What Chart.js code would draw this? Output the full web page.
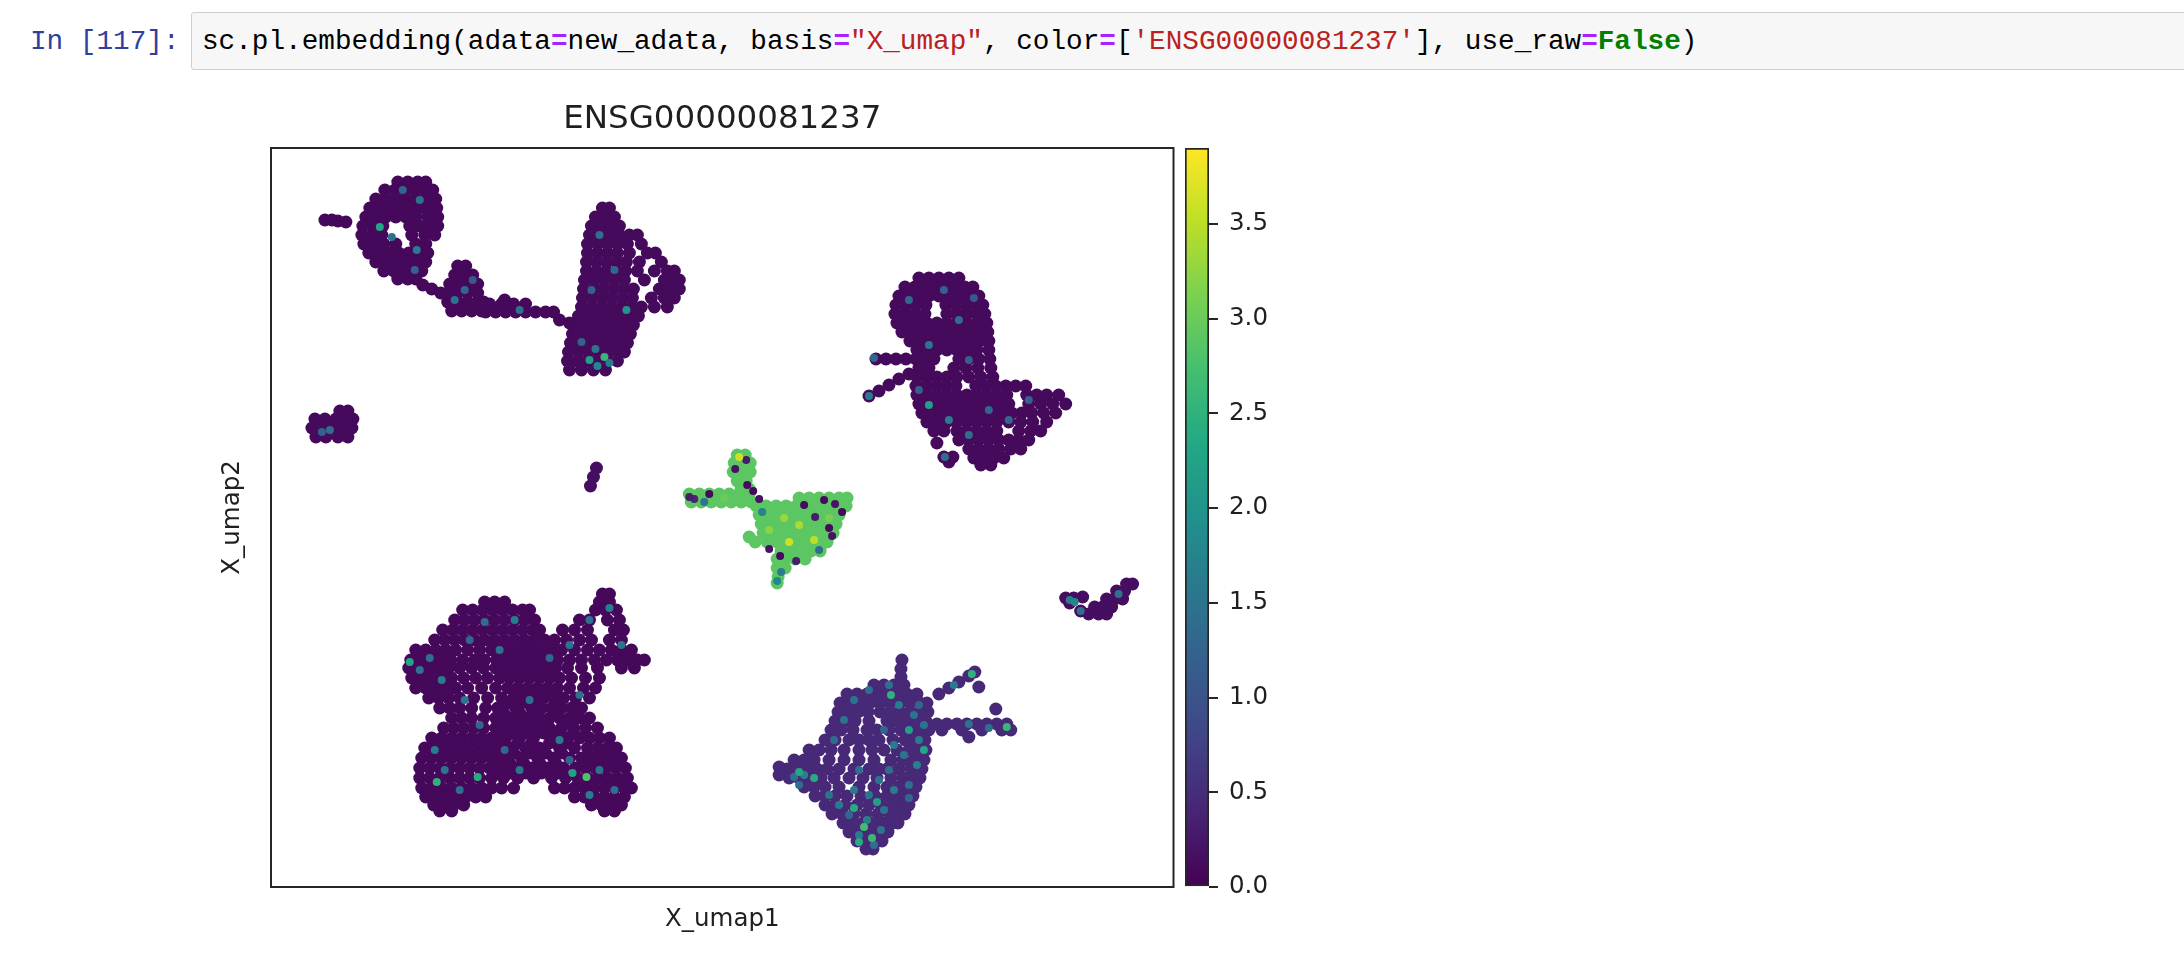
<!DOCTYPE html>
<html>
<head>
<meta charset="utf-8">
<script src="https://cdn.jsdelivr.net/npm/chart.js@4.4.1/dist/chart.umd.min.js"></script>
<style>
  html, body { margin: 0; padding: 0; background: #fff; width: 2184px; height: 968px; overflow: hidden; }
  .mono { position: absolute; top: 12px; line-height: 59px; font-family: "Liberation Mono", monospace; font-size: 27.7px; white-space: pre; }
  .prompt { left: 30px; color: #303F9F; }
  .cell { position: absolute; left: 191px; top: 12px; width: 2100px; height: 56px; background: #f7f7f7; border: 1.5px solid #cfcfcf; border-radius: 3px; }
  .code { left: 202px; color: #000; }
  .op { color: #AA22FF; font-weight: bold; }
  .str { color: #BA2121; }
  .kw { color: #008000; font-weight: bold; }
  #plotWrap { position: absolute; left: 210px; top: 90px; }
  #cbarWrap { position: absolute; left: 1175px; top: 138px; }
</style>
</head>
<body>
<div class="mono prompt">In [117]:</div>
<div class="cell"></div>
<div class="mono code">sc.pl.embedding(adata<span class="op">=</span>new_adata, basis<span class="op">=</span><span class="str">"X_umap"</span>, color<span class="op">=</span>[<span class="str">'ENSG00000081237'</span>], use_raw<span class="op">=</span><span class="kw">False</span>)</div>
<div id="plotWrap"><canvas id="umap" width="970" height="860"></canvas></div>
<div id="cbarWrap"><canvas id="cbar" width="110" height="774"></canvas></div>
<script>
// embedding; each row is [X_umap2, X_umap1, X_umap1, ...]
const cellsHook = [
  [708,128,138,148,156],[700,115,125,135,145,155,163],[691,106,116,126,136,146,156,166],
  [682,100,110,120,130,140,150,160,167],[673,96,106,116,126,136,146,158,168],
  [664,93,103,113,140,150,160,168],[655,92,102,112,142,155,165],[646,94,104,114,126,146,156],
  [637,99,109,119,129,139,149,158],[628,106,116,126,136,146,156],[619,114,124,134,144,152],
  [611,128,138,146],[605,153],[601,162],[597,171],[593,178],
  [624,188,196],[615,185,194,203],[606,180,190,200,208],[597,178,188,198,208],
  [588,178,188,198,208,214],[579,182,192,202,212],
  [586,220,232,244,256],[578,216,226,236,246,256,266,276,284],[570,290],[567,300],[590,235],
  [670,55,62],[669,68],[668,76]
];
const cellsRibbon = [
  [682,333,340],[673,326,336,345],[664,322,332,342,350],[655,320,330,340,350,360,368],
  [646,318,328,338,348,358,372],[637,318,328,338,348,360,378,386],[628,317,327,337,347,357,370,392],
  [619,317,327,337,347,356,368,385,398,405],[610,315,325,335,345,355,375,395,405,410],
  [601,314,324,334,344,354,364,390,400,410],[592,313,323,333,343,353,363,382,395,405],
  [583,312,322,332,342,352,362,372,385,398],[574,309,319,329,339,349,359,369],
  [565,306,316,326,336,346,356,364],[556,303,313,323,333,343,353,361],
  [547,301,311,321,331,341,351,358],[538,299,309,319,329,339,349,355],
  [529,298,308,318,328,338,348],[520,300,312,324,336]
];
const cellsFan = [
  [612,650,660,670,680,690],[603,636,646,656,666,676,686,696,704],
  [594,630,640,650,660,670,680,690,700,710],[585,627,637,647,657,677,687,697,707,714],
  [576,626,636,646,656,678,688,698,708,716],[567,628,638,648,658,668,678,688,698,708,718],
  [558,633,643,653,663,673,683,693,703,713,719],[549,641,651,661,671,681,691,701,711,720],
  [540,648,658,668,678,688,698,708,720],[531,607,617,627,637,647,655,665,690,700,710,721],
  [522,650,660,685,697,709,722],[513,648,658,668,678,688,700,712,724],
  [504,647,657,667,677,687,707,717,727,737,747,757],
  [495,648,658,668,678,688,698,708,718,728,738,758,768,778,790],
  [486,650,660,670,680,690,700,710,720,730,740,760,772,784,797],
  [477,653,663,673,683,693,703,713,723,733,743,753,763,775,787],
  [468,658,668,678,688,698,708,718,728,740,752,764,778],
  [459,665,675,688,698,708,718,728,750,762,772],[450,690,700,710,720,730,740,750,760],
  [441,700,710,720,730,742,752],[432,705,715,725,735],[425,712,722],
  [494,600],[499,610],[505,620],[511,630],[516,640],[433,675,684],[428,680],[447,668]
];
const cellsCenter = [
  [435,468,476],[427,465,474,481],[418,464,473,481],[409,468,477],[401,472,480],
  [396,420,430,440,450,460,470,480],[388,422,432,442,452,462,472,482],
  [392,530,540,550,560,570,578],[384,487,497,507,517,527,537,547,557,567,577],
  [375,490,500,510,520,530,540,550,560,570],[366,492,502,512,522,532,542,552,562,567],
  [357,494,504,514,524,534,544,554,564],[348,498,508,518,528,538,548,558],
  [339,512,522,532,542,551],[331,508,516,526,536],[322,508,516],[313,509],[307,508],
  [353,480],[348,486]
];
const cellsIsletL = [[479,70,78],[471,45,55,66,75,83],[462,42,52,62,72,82],[453,46,56,68,78]];
const cellsIsletM = [[422,327],[413,324],[404,321]];
const cellsRight = [
  [306,858,864],[299,848,856],[291,838,846,854],[283,826,834,843],[276,820,830,838],
  [292,797,805],[287,801],[293,814],[279,812]
];
const cellsCross = [
  [296,333,340],[288,215,225,235,330,340],[280,193,203,213,223,233,243,253,260,326,336,347],
  [270,185,195,205,215,225,235,245,255,265,310,320,338,350],
  [260,173,183,193,203,213,223,233,243,253,263,270,293,305,318,345,354],
  [250,165,175,185,195,205,215,225,235,245,255,265,275,285,297,310,322,340,352],
  [240,146,156,166,176,186,198,210,222,232,242,252,262,272,282,292,305,318,330,342,352,362],
  [230,141,151,161,171,181,193,205,215,227,237,247,257,267,277,288,300,312,325,337,348,358,368,375],
  [222,139,149,159,169,179,190,202,214,226,236,246,256,266,276,286,298,312,328,352,365],
  [212,142,152,162,172,182,194,206,218,230,240,250,260,270,280,290,302,316,330],
  [202,146,156,166,176,186,198,212,226,238,248,258,268,278,288,300,314,326],
  [192,159,169,179,190,204,218,232,244,254,264,274,284,294,306,320],
  [187,238,252,268,290],
  [182,170,180,190,202,216,228,246,262,272,282,292,302,312],
  [177,234,250,264,286,306],
  [172,182,192,202,214,226,240,256,270,280,290,300,310,320],
  [167,232,246,260,274,296],
  [162,174,184,194,204,214,226,238,252,268,280,292,304,316,328],
  [157,230,244,258,274,290,304],
  [152,162,172,182,192,202,212,222,236,250,264,282,298,310,320,330,340],
  [147,232,248,262,280,298],
  [142,155,165,175,185,195,205,215,225,240,256,270,290,305,318,328,338,347],
  [137,230,244,260,276,292],
  [132,152,162,172,182,192,202,212,222,236,252,268,284,300,312,322,332,342,352],
  [127,228,240,254,270,286],
  [122,150,160,170,180,190,200,210,220,232,246,262,278,294,306,316,326,336,346,356],
  [117,228,240,256,272,288],
  [112,150,160,170,180,190,200,210,222,234,248,264,282,296,308,318,328,338,348,358],
  [102,152,162,172,182,192,202,212,222,232,244,285,295,305,315,325,335,345,355,362],
  [93,156,166,176,186,196,206,216,305,315,325,335,345,355],[85,164,174,184,194,322,332,342,352],
  [79,170,182,335,345]
];
const cellsLower = [
  [205,605,615,625,635],[196,578,588,598,608,618,628,638,648],
  [187,571,581,591,601,611,621,631,641,651,658],[178,569,579,589,599,611,621,631,641,651,659],
  [169,566,576,586,600,618,628,638,648,657],[160,562,572,584,598,608,620,632,642,652,660],
  [150,556,566,580,590,600,610,624,636,646,656],[140,540,550,562,575,590,603,615,628,640,650,657],
  [130,525,535,545,560,575,590,605,622,634,645,655],[121,518,528,538,548,558,570,585,600,610,618,630,642,653],
  [112,520,530,540,552,565,580,594,608,622,634,645,651],[103,535,545,556,570,590,605,618,630,640,647],
  [94,546,556,566,578,592,606,618,628,638,644],[85,556,566,576,588,600,612,624,634,640],
  [76,563,573,585,597,609,621,631,636],[67,574,584,594,604,614,624,629],
  [58,580,590,600,610,619],[49,588,598,608,613],[41,597,604],
  [166,668,678,688,698,708,718,728,738],[160,673,693,713,733,742],
  [196,670],[202,680],[208,690],[214,700],[218,706],[203,710],[181,727],[153,700],
  [230,633],[221,632],[213,632],[123,510],[115,510]
];

const clusterRows = [cellsHook, cellsRibbon, cellsFan, cellsCenter, cellsIsletL, cellsIsletM, cellsRight, cellsCross, cellsLower];
const clusterExpr = [0.08, 0.1, 0.1, 2.9, 0.1, 0.15, 0.15, 0.08, 0.45];

// cells whose expression differs from the bulk of their cluster: [X_umap1, X_umap2, value]
const expressedCells = [
  [110,663,2.3],[122,653,1.5],[133,700,1.3],[150,690,1.5],[147,640,1.6],[195,600,1.3],[185,590,1.5],
  [250,580,1.4],[145,620,1.2],[203,610,1.1],
  [320,530,2.2],[328,524,1.8],[335,533,2.6],[326,541,1.5],[340,527,1.6],[357,580,2.0],[330,655,1.4],
  [345,620,1.3],[322,600,1.2],[312,548,1.2],
  [640,590,1.3],[690,570,1.4],[700,530,1.2],[660,545,1.5],[720,480,1.3],[680,470,1.6],[650,500,1.2],
  [700,455,1.4],[605,532,1.3],[600,494,1.6],[760,490,1.2],[740,470,1.3],[660,485,2.2],[675,600,1.2],
  [705,592,1.1],[676,433,1.4],
  [555,390,0.1],[566,386,0.2],[573,378,0.1],[546,373,0.3],[560,362,0.1],[490,391,0.2],[484,399,0.1],
  [478,405,0.1],[466,421,0.2],[500,341,0.2],[511,334,0.1],[527,329,0.3],[425,391,0.4],[440,396,0.1],
  [420,393,0.3],[563,354,0.2],[535,385,0.1],[477,430,0.3],
  [470,433,3.6],[530,365,3.4],[515,372,3.3],[545,350,3.5],[500,360,3.2],[455,392,3.0],[560,372,3.1],
  [520,348,3.6],[512,318,1.6],[508,309,1.8],[435,388,1.5],[493,378,1.7],[550,340,1.4],
  [60,460,1.4],[52,458,1.2],
  [801,290,1.6],[806,288,1.8],[850,296,1.5],[812,279,1.4],
  [150,220,1.5],[160,232,1.4],[172,210,1.6],[200,250,1.3],[230,240,1.5],[215,268,1.4],[245,270,1.6],
  [280,232,1.3],[300,245,1.5],[320,270,1.4],[340,282,1.7],[195,190,1.5],[210,165,1.3],[260,190,1.4],
  [290,150,1.6],[330,120,1.5],[345,100,1.4],[320,95,1.6],[300,130,1.3],[175,120,1.5],[190,100,1.4],
  [165,140,1.6],[235,140,1.3],[250,120,1.5],[310,195,1.4],[352,245,1.5],
  [167,108,2.5],[208,113,2.4],[303,117,2.2],[317,113,2.8],[140,228,2.3],
  [585,190,1.5],[600,200,1.4],[630,185,1.6],[645,175,1.5],[615,160,1.3],[650,150,1.6],[635,135,1.5],
  [620,120,1.4],[648,125,1.7],[600,95,1.5],[625,100,1.6],[640,105,1.4],[615,80,1.5],[598,70,1.7],
  [590,55,1.6],[605,45,1.4],[612,60,1.5],[580,75,1.3],[570,85,1.6],[560,95,1.5],[535,115,1.7],
  [525,113,1.5],[530,105,1.4],[650,185,1.3],[575,170,1.5],[565,150,1.4],[625,145,1.6],[610,110,1.5],
  [590,120,1.4],[655,165,1.5],[640,92,1.3],[585,100,1.6],[620,205,1.5],[700,166,1.5],[720,162,1.4],
  [685,205,1.6],
  [590,48,2.4],[603,52,2.6],[530,118,2.3],[640,160,2.2],[622,195,2.5],[655,140,2.3],[585,82,2.4],
  [595,63,2.7],[738,163,2.6],[703,216,2.5],[545,112,2.4],[608,88,2.2]
];

const cbarMin = 0;
const cbarMax = 3.9;
const cbarTicks = [0, 0.5, 1.0, 1.5, 2.0, 2.5, 3.0, 3.5];

const viridisStops = ['#440154', '#482475', '#414487', '#355f8d', '#2a788e', '#21918c',
                      '#22a884', '#44bf70', '#7ad151', '#bddf26', '#fde725'];

function hexRgb(h) {
  return [parseInt(h.slice(1, 3), 16), parseInt(h.slice(3, 5), 16), parseInt(h.slice(5, 7), 16)];
}

function viridis(v) {
  const n = viridisStops.length - 1;
  const t = Math.max(0, Math.min(1, (v - cbarMin) / (cbarMax - cbarMin))) * n;
  const i = Math.min(Math.floor(t), n - 1);
  const f = t - i;
  const a = hexRgb(viridisStops[i]), b = hexRgb(viridisStops[i + 1]);
  const c = a.map((x, k) => Math.round(x + (b[k] - x) * f));
  return `rgb(${c[0]},${c[1]},${c[2]})`;
}

function rowsToPoints(rows) {
  const pts = [];
  rows.forEach(r => {
    for (let i = 1; i < r.length; i++) pts.push({ x: r[i], y: r[0] });
  });
  return pts;
}

const textColor = '#1f1f1f';

const datasets = [{
  label: 'expressed',
  order: 0,
  data: expressedCells.map(c => ({ x: c[0], y: c[1] })),
  backgroundColor: expressedCells.map(c => viridis(c[2])),
  pointRadius: 4,
  borderWidth: 0
}];
clusterRows.forEach((rows, k) => {
  datasets.push({
    label: 'cluster ' + k,
    order: 1,
    data: rowsToPoints(rows),
    backgroundColor: viridis(clusterExpr[k]),
    pointRadius: 6.5,
    borderWidth: 0
  });
});

const axesFrame = {
  id: 'axesFrame',
  afterDraw(chart) {
    const { ctx, chartArea: a } = chart;
    ctx.save();
    ctx.strokeStyle = '#262626';
    ctx.lineWidth = 2;
    ctx.strokeRect(a.left, a.top, a.right - a.left, a.bottom - a.top);
    ctx.restore();
  }
};

const labelFont = { family: 'DejaVu Sans', size: 24.5, lineHeight: 1.2 };

new Chart(document.getElementById('umap'), {
  type: 'scatter',
  data: { datasets: datasets },
  options: {
    responsive: false,
    animation: false,
    devicePixelRatio: 1,
    events: [],
    layout: { padding: { left: 7.8, top: 10, right: 5, bottom: 10.6 } },
    plugins: {
      legend: { display: false },
      tooltip: { enabled: false },
      title: {
        display: true,
        text: 'ENSG00000081237',
        fullSize: false,
        color: textColor,
        font: { family: 'DejaVu Sans', size: 32.5, weight: 'normal', lineHeight: 1.2 },
        padding: { top: 0, bottom: 9 }
      }
    },
    scales: {
      x: {
        type: 'linear', min: 1, max: 905,
        ticks: { display: false },
        grid: { display: false, drawTicks: false },
        border: { display: false },
        title: { display: true, text: 'X_umap1', color: textColor, font: labelFont, padding: { top: 18, bottom: 5 } }
      },
      y: {
        type: 'linear', min: 3, max: 742,
        ticks: { display: false },
        grid: { display: false, drawTicks: false },
        border: { display: false },
        title: { display: true, text: 'X_umap2', color: textColor, font: labelFont, padding: { top: 0, bottom: 23.8 } }
      }
    }
  },
  plugins: [axesFrame]
});

new Chart(document.getElementById('cbar'), {
  type: 'bar',
  data: {
    labels: [''],
    datasets: [{
      data: [[cbarMin, cbarMax]],
      backgroundColor(c) {
        const { ctx, chartArea } = c.chart;
        if (!chartArea) return viridisStops[0];
        const g = ctx.createLinearGradient(0, chartArea.bottom, 0, chartArea.top);
        viridisStops.forEach((col, i) => g.addColorStop(i / (viridisStops.length - 1), col));
        return g;
      },
      borderColor: '#262626',
      borderWidth: 2,
      borderSkipped: false,
      barPercentage: 1,
      categoryPercentage: 1
    }]
  },
  options: {
    responsive: false,
    animation: false,
    devicePixelRatio: 1,
    events: [],
    layout: { padding: { left: 10, top: 10, right: 16, bottom: 25 } },
    plugins: { legend: { display: false }, tooltip: { enabled: false } },
    scales: {
      x: { display: false },
      y: {
        position: 'right',
        min: cbarMin,
        max: cbarMax,
        afterBuildTicks(axis) { axis.ticks = cbarTicks.map(v => ({ value: v })); },
        afterFit(axis) {
          axis.width = 60;
          axis.paddingTop = 0;
          axis.paddingBottom = 0;
        },
        ticks: { color: textColor, font: labelFont, padding: 11, callback: v => v.toFixed(1) },
        grid: { drawOnChartArea: false, drawTicks: true, tickLength: 9, color: '#262626', lineWidth: 2 },
        border: { display: false }
      }
    }
  }
});
</script>
</body>
</html>
